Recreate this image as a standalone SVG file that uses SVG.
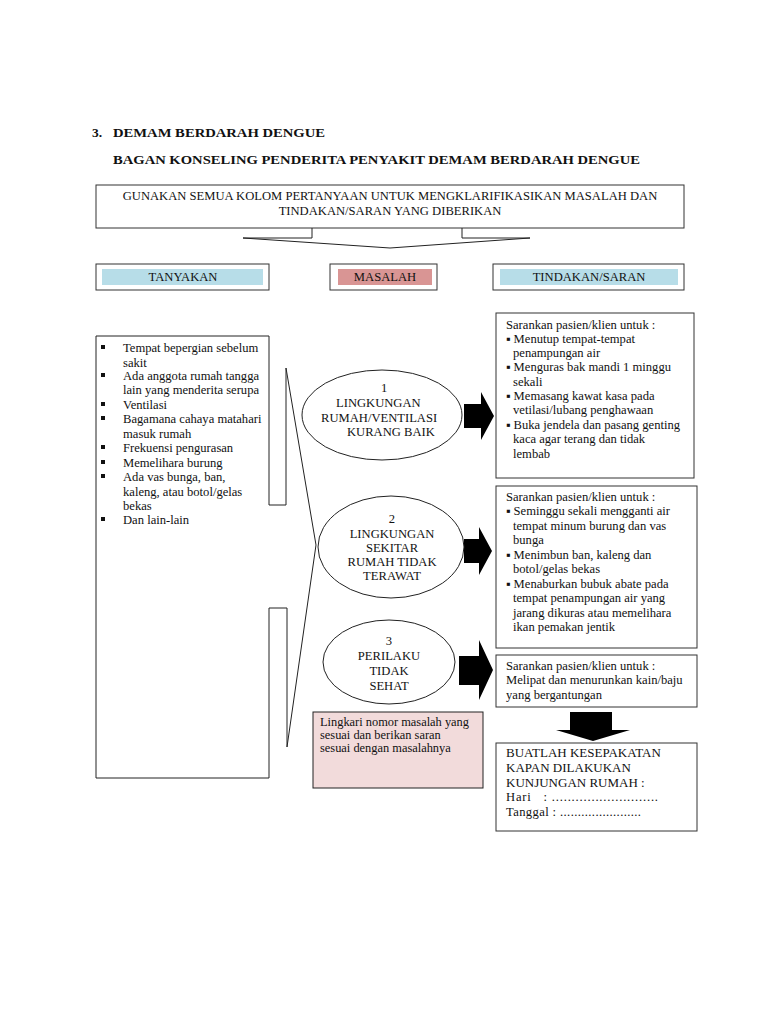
<svg xmlns="http://www.w3.org/2000/svg" width="768" height="1024" viewBox="0 0 768 1024">
<style>
text{font-family:"Liberation Serif","Times New Roman",serif;fill:#111;}
.t{font-size:13.5px;font-weight:bold;}
.n{font-size:12.6px;}
.c{text-anchor:middle;}
.box{fill:#fff;stroke:#333;stroke-width:1;}
.ln{fill:none;stroke:#222;stroke-width:1;}
.ell{fill:#fff;stroke:#222;stroke-width:1;}
.arr{fill:#000;}
</style>
<rect width="768" height="1024" fill="#fff"/>
<g id="titles">
<text class="t" x="92" y="137">3.</text>
<text class="t" x="113" y="137" textLength="212" lengthAdjust="spacingAndGlyphs">DEMAM BERDARAH DENGUE</text>
<text class="t" x="113" y="164" textLength="527" lengthAdjust="spacingAndGlyphs">BAGAN KONSELING PENDERITA PENYAKIT DEMAM BERDARAH DENGUE</text>
</g>
<g id="top-box">
<rect class="box" x="96" y="185" width="588" height="43"/>
<text class="n c" x="390" y="200">GUNAKAN SEMUA KOLOM PERTANYAAN UNTUK MENGKLARIFIKASIKAN MASALAH DAN</text>
<text class="n c" x="390" y="215">TINDAKAN/SARAN YANG DIBERIKAN</text>
</g>
<g id="connectors">
<path class="ln" d="M312,228 V238 H243 L390,248 L530,238 H462 V228"/>
<path class="ln" d="M96,336 H269 V505 H286 V368 L316,545 L287,747 V608 H269 V778 H96 Z" fill="#fff"/>
<polygon class="arr" points="464,404 481,404 481,392 494,416 481,440 481,428 464,428"/>
<polygon class="arr" points="464,539 479,539 479,527 492,551 479,575 479,563 464,563"/>
<polygon class="arr" points="459,656 479,656 479,640 493,670 479,700 479,685 459,685"/>
<polygon class="arr" points="570,712 612,712 612,730 630,730 593,741 556,730 570,730"/>
</g>
<g id="header-tanyakan">
<rect class="box" x="96" y="264" width="173" height="26"/>
<rect x="102" y="269" width="161" height="16" fill="#b7dde8"/>
<text class="n c" x="183" y="281">TANYAKAN</text>
</g>
<g id="header-masalah">
<rect class="box" x="330" y="264" width="107" height="26"/>
<rect x="338" y="269" width="94" height="16" fill="#d99594"/>
<text class="n c" x="385" y="281">MASALAH</text>
</g>
<g id="header-tindakan">
<rect class="box" x="493" y="264" width="191" height="26"/>
<rect x="500" y="269" width="178" height="16" fill="#b7dde8"/>
<text class="n c" x="589" y="281">TINDAKAN/SARAN</text>
</g>
<g id="tanyakan-list">
<g fill="#111">
<rect x="101" y="345" width="4" height="4"/>
<rect x="101" y="373" width="4" height="4"/>
<rect x="101" y="402" width="4" height="4"/>
<rect x="101" y="416" width="4" height="4"/>
<rect x="101" y="445" width="4" height="4"/>
<rect x="101" y="460" width="4" height="4"/>
<rect x="101" y="474" width="4" height="4"/>
<rect x="101" y="517" width="4" height="4"/>
</g>
<text class="n" x="123" y="352">Tempat bepergian sebelum</text>
<text class="n" x="123" y="367">sakit</text>
<text class="n" x="123" y="380">Ada anggota rumah tangga</text>
<text class="n" x="123" y="394">lain yang menderita serupa</text>
<text class="n" x="123" y="409">Ventilasi</text>
<text class="n" x="123" y="423">Bagamana cahaya matahari</text>
<text class="n" x="123" y="438">masuk rumah</text>
<text class="n" x="123" y="452">Frekuensi pengurasan</text>
<text class="n" x="123" y="467">Memelihara burung</text>
<text class="n" x="123" y="481">Ada vas bunga, ban,</text>
<text class="n" x="123" y="496">kaleng, atau botol/gelas</text>
<text class="n" x="123" y="510">bekas</text>
<text class="n" x="123" y="524">Dan lain-lain</text>
</g>
<g id="masalah-1">
<ellipse class="ell" cx="382" cy="415" rx="80" ry="45"/>
<text class="n" x="381" y="392">1</text>
<text class="n" x="336" y="407">LINGKUNGAN</text>
<text class="n" x="321" y="422">RUMAH/VENTILASI</text>
<text class="n" x="347" y="436">KURANG BAIK</text>
</g>
<g id="masalah-2">
<ellipse class="ell" cx="391" cy="547" rx="73" ry="51"/>
<text class="n c" x="392" y="523">2</text>
<text class="n c" x="392" y="538">LINGKUNGAN</text>
<text class="n c" x="392" y="552">SEKITAR</text>
<text class="n c" x="392" y="566">RUMAH TIDAK</text>
<text class="n c" x="392" y="580">TERAWAT</text>
</g>
<g id="masalah-3">
<ellipse class="ell" cx="389" cy="662" rx="66" ry="42"/>
<text class="n c" x="389" y="645">3</text>
<text class="n c" x="389" y="660">PERILAKU</text>
<text class="n c" x="389" y="675">TIDAK</text>
<text class="n c" x="389" y="690">SEHAT</text>
</g>
<g id="saran-1">
<rect class="box" x="496" y="313" width="198" height="165"/>
<text class="n" x="506" y="329">Sarankan pasien/klien untuk :</text>
<text class="n" x="506" y="343">▪ Menutup tempat-tempat</text>
<text class="n" x="513" y="357">penampungan air</text>
<text class="n" x="506" y="371">▪ Menguras bak mandi 1 minggu</text>
<text class="n" x="513" y="386">sekali</text>
<text class="n" x="506" y="400">▪ Memasang kawat kasa pada</text>
<text class="n" x="513" y="414">vetilasi/lubang penghawaan</text>
<text class="n" x="506" y="429">▪ Buka jendela dan pasang genting</text>
<text class="n" x="513" y="443">kaca agar terang dan tidak</text>
<text class="n" x="513" y="458">lembab</text>
</g>
<g id="saran-2">
<rect class="box" x="496" y="486" width="201" height="162"/>
<text class="n" x="506" y="501">Sarankan pasien/klien untuk :</text>
<text class="n" x="506" y="515">▪ Seminggu sekali mengganti air</text>
<text class="n" x="513" y="530">tempat minum burung dan vas</text>
<text class="n" x="513" y="544">bunga</text>
<text class="n" x="506" y="559">▪ Menimbun ban, kaleng dan</text>
<text class="n" x="513" y="573">botol/gelas bekas</text>
<text class="n" x="506" y="588">▪ Menaburkan bubuk abate pada</text>
<text class="n" x="513" y="602">tempat penampungan air yang</text>
<text class="n" x="513" y="617">jarang dikuras atau memelihara</text>
<text class="n" x="513" y="631">ikan pemakan jentik</text>
</g>
<g id="saran-3">
<rect class="box" x="496" y="655" width="201" height="52"/>
<text class="n" x="506" y="670">Sarankan pasien/klien untuk :</text>
<text class="n" x="506" y="684">Melipat dan menurunkan kain/baju</text>
<text class="n" x="506" y="699">yang bergantungan</text>
</g>
<g id="kesepakatan">
<rect class="box" x="496" y="743" width="201" height="88"/>
<text x="506" y="757" style="font-size:13px">BUATLAH KESEPAKATAN</text>
<text x="506" y="772" style="font-size:13px">KAPAN DILAKUKAN</text>
<text x="506" y="787" style="font-size:13px">KUNJUNGAN RUMAH :</text>
<text class="n" x="506" y="801" xml:space="preserve" textLength="152" lengthAdjust="spacing">Hari   : ...........................</text>
<text class="n" x="506" y="816" textLength="135" lengthAdjust="spacing">Tanggal : .......................</text>
</g>
<g id="catatan">
<rect x="313" y="712" width="170" height="76" fill="#f2dbdb" stroke="#222" stroke-width="1"/>
<text x="320" y="726" style="font-size:12.4px">Lingkari nomor masalah yang</text>
<text x="320" y="739" style="font-size:12.4px">sesuai dan berikan saran</text>
<text x="320" y="752" style="font-size:12.4px">sesuai dengan masalahnya</text>
</g>
</svg>
